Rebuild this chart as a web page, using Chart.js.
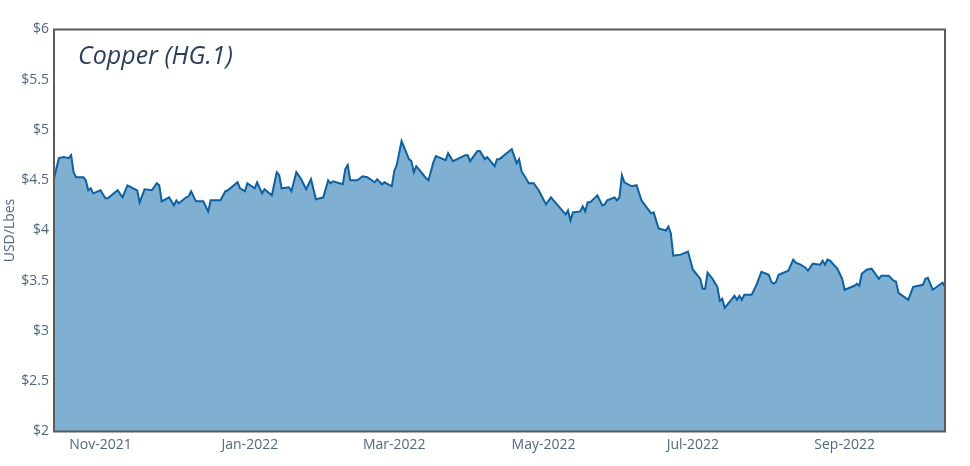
<!DOCTYPE html>
<html>
<head>
<meta charset="utf-8">
<script src="https://cdn.jsdelivr.net/npm/chart.js@4.4.0/dist/chart.umd.min.js"></script>
<style>
  html, body { margin: 0; padding: 0; background: #fff; }
  #wrap { width: 970px; height: 466px; position: relative; }
</style>
</head>
<body>
<div id="wrap"><canvas id="copperChart"></canvas></div>
<script>
// Copper futures (HG.1), USD per lb
const dates = [
    '2021-10-13', '2021-10-15', '2021-10-17', '2021-10-19', '2021-10-20', '2021-10-21', '2021-10-22',
    '2021-10-25', '2021-10-26', '2021-10-27', '2021-10-28', '2021-10-29',
    '2021-11-01', '2021-11-03', '2021-11-04', '2021-11-08', '2021-11-10', '2021-11-12', '2021-11-16',
    '2021-11-17', '2021-11-19', '2021-11-22', '2021-11-24', '2021-11-25', '2021-11-26', '2021-11-29',
    '2021-12-01', '2021-12-02', '2021-12-03', '2021-12-06', '2021-12-07', '2021-12-08', '2021-12-10',
    '2021-12-13', '2021-12-15', '2021-12-16', '2021-12-20', '2021-12-22', '2021-12-23', '2021-12-27',
    '2021-12-28', '2021-12-30', '2021-12-31',
    '2022-01-03', '2022-01-04', '2022-01-06', '2022-01-07', '2022-01-10', '2022-01-12', '2022-01-13',
    '2022-01-14', '2022-01-17', '2022-01-18', '2022-01-20', '2022-01-22', '2022-01-24', '2022-01-26',
    '2022-01-28', '2022-01-31',
    '2022-02-02', '2022-02-03', '2022-02-04', '2022-02-08', '2022-02-09', '2022-02-10', '2022-02-11',
    '2022-02-14', '2022-02-16', '2022-02-18', '2022-02-21', '2022-02-22', '2022-02-24', '2022-02-25',
    '2022-02-28',
    '2022-03-01', '2022-03-02', '2022-03-04', '2022-03-07', '2022-03-08', '2022-03-09', '2022-03-10',
    '2022-03-14', '2022-03-15', '2022-03-17', '2022-03-18', '2022-03-22', '2022-03-23', '2022-03-25',
    '2022-03-30', '2022-03-31',
    '2022-04-01', '2022-04-04', '2022-04-05', '2022-04-07', '2022-04-08', '2022-04-11', '2022-04-12',
    '2022-04-13', '2022-04-18', '2022-04-20', '2022-04-21', '2022-04-22', '2022-04-25', '2022-04-27',
    '2022-04-29',
    '2022-05-02', '2022-05-04', '2022-05-10', '2022-05-11', '2022-05-12', '2022-05-13', '2022-05-16',
    '2022-05-17', '2022-05-18', '2022-05-19', '2022-05-20', '2022-05-23', '2022-05-25', '2022-05-26',
    '2022-05-27', '2022-05-30', '2022-05-31',
    '2022-06-01', '2022-06-02', '2022-06-03', '2022-06-06', '2022-06-08', '2022-06-10', '2022-06-13',
    '2022-06-14', '2022-06-15', '2022-06-17', '2022-06-20', '2022-06-21', '2022-06-22', '2022-06-23',
    '2022-06-26', '2022-06-29',
    '2022-07-01', '2022-07-04', '2022-07-05', '2022-07-06', '2022-07-07', '2022-07-09', '2022-07-11',
    '2022-07-12', '2022-07-13', '2022-07-14', '2022-07-18', '2022-07-19', '2022-07-20', '2022-07-21',
    '2022-07-22', '2022-07-25', '2022-07-27', '2022-07-29',
    '2022-08-01', '2022-08-02', '2022-08-03', '2022-08-04', '2022-08-05', '2022-08-09', '2022-08-11',
    '2022-08-12', '2022-08-14', '2022-08-16', '2022-08-17', '2022-08-19', '2022-08-22', '2022-08-23',
    '2022-08-24', '2022-08-25', '2022-08-26', '2022-08-29', '2022-08-31',
    '2022-09-01', '2022-09-05', '2022-09-06', '2022-09-07', '2022-09-08', '2022-09-10', '2022-09-12',
    '2022-09-15', '2022-09-16', '2022-09-19', '2022-09-21', '2022-09-22', '2022-09-23', '2022-09-27',
    '2022-09-29',
    '2022-10-03', '2022-10-04', '2022-10-05', '2022-10-07', '2022-10-11', '2022-10-12'
];

const prices = [
    4.52, 4.72, 4.73, 4.72, 4.75, 4.58, 4.53,
    4.53, 4.50, 4.40, 4.42, 4.37,
    4.40, 4.32, 4.32, 4.40, 4.33, 4.45, 4.40,
    4.28, 4.41, 4.40, 4.47, 4.45, 4.29, 4.33,
    4.25, 4.30, 4.27, 4.33, 4.34, 4.39, 4.29,
    4.29, 4.19, 4.30, 4.30, 4.39, 4.40, 4.48,
    4.42, 4.39, 4.47,
    4.42, 4.48, 4.37, 4.41, 4.35, 4.58, 4.55,
    4.42, 4.43, 4.39, 4.58, 4.51, 4.41, 4.51,
    4.31, 4.33,
    4.50, 4.47, 4.49, 4.46, 4.61, 4.65, 4.50,
    4.50, 4.54, 4.53, 4.48, 4.51, 4.46, 4.48,
    4.44,
    4.59, 4.65, 4.89, 4.71, 4.69, 4.58, 4.64,
    4.52, 4.50, 4.68, 4.74, 4.70, 4.77, 4.69,
    4.75, 4.75,
    4.69, 4.79, 4.79, 4.71, 4.73, 4.64, 4.71,
    4.71, 4.81, 4.67, 4.71, 4.59, 4.47, 4.47,
    4.40,
    4.26, 4.33, 4.16, 4.20, 4.10, 4.18, 4.19,
    4.24, 4.19, 4.28, 4.28, 4.35, 4.25, 4.26,
    4.30, 4.33, 4.30,
    4.33, 4.55, 4.48, 4.44, 4.45, 4.30, 4.20,
    4.17, 4.18, 4.02, 4.00, 4.04, 3.97, 3.75,
    3.76, 3.79,
    3.61, 3.52, 3.42, 3.42, 3.58, 3.52, 3.44,
    3.30, 3.32, 3.23, 3.35, 3.31, 3.35, 3.31,
    3.36, 3.36, 3.46, 3.59,
    3.56, 3.49, 3.47, 3.49, 3.56, 3.60, 3.71,
    3.68, 3.66, 3.63, 3.60, 3.67, 3.66, 3.70,
    3.66, 3.71, 3.70, 3.62, 3.52,
    3.41, 3.45, 3.47, 3.45, 3.57, 3.61, 3.62,
    3.52, 3.55, 3.55, 3.50, 3.49, 3.38, 3.31,
    3.44,
    3.46, 3.52, 3.53, 3.41, 3.48, 3.44
];

const tickDates = ['2021-11-01', '2022-01-01', '2022-03-01', '2022-05-01', '2022-07-01', '2022-09-01'];
const tickLabels = ['Nov-2021', 'Jan-2022', 'Mar-2022', 'May-2022', 'Jul-2022', 'Sep-2022'];

const colors = {
    line: 'rgb(10, 98, 164)',
    fill: 'rgba(0, 97, 163, 0.5)',
    frame: '#5a5a5a',
    tick: '#506784',
    title: '#2a3f5f'
};

const dayNum = s => Date.parse(s + 'T00:00:00Z') / 86400000;
const tickDays = tickDates.map(dayNum);

// frame round the plot area and the title inside it
const framePlugin = {
    id: 'frame',
    afterDatasetsDraw(chart) {
        const { ctx, chartArea: a } = chart;
        ctx.save();
        ctx.strokeStyle = colors.frame;
        ctx.lineWidth = 2;
        ctx.strokeRect(a.left, a.top, a.right - a.left, a.bottom - a.top);
        ctx.fillStyle = colors.title;
        ctx.font = 'italic 25px "Open Sans"';
        ctx.textBaseline = 'middle';
        ctx.fillText('Copper (HG.1)', a.left + 24, a.top + 27);
        ctx.restore();
    }
};

document.addEventListener('DOMContentLoaded', function () {
    const copperChart = new Chart(document.getElementById('copperChart'), {
        type: 'line',
        data: {
            datasets: [{
                label: 'Copper (HG.1)',
                data: dates.map((d, i) => ({ x: dayNum(d), y: prices[i] })),
                borderColor: colors.line,
                backgroundColor: colors.fill,
                borderWidth: 2,
                pointRadius: 0,
                tension: 0,
                fill: 'start'
            }]
        },
        options: {
            responsive: true,
            maintainAspectRatio: false,
            animation: false,
            layout: { padding: { top: 29.5, right: 25, left: 0, bottom: 0 } },
            plugins: {
                legend: { display: false },
                tooltip: { enabled: false }
            },
            scales: {
                x: {
                    type: 'linear',
                    min: dayNum(dates[0]),
                    max: dayNum(dates[dates.length - 1]),
                    grid: { display: false, drawTicks: false },
                    border: { display: false },
                    afterBuildTicks: scale => { scale.ticks = tickDays.map(v => ({ value: v })); },
                    afterFit: scale => { scale.height = 34.5; },
                    ticks: {
                        autoSkip: false,
                        maxRotation: 0,
                        padding: 5,
                        color: colors.tick,
                        font: { family: 'Open Sans', size: 14 },
                        callback: value => tickLabels[tickDays.indexOf(value)]
                    }
                },
                y: {
                    min: 2,
                    max: 6,
                    grid: { display: false, drawTicks: false },
                    border: { display: false },
                    afterFit: scale => { scale.width = 54; },
                    title: {
                        display: true,
                        text: 'USD/Lbes',
                        color: colors.tick,
                        font: { family: 'Open Sans', size: 14 },
                        padding: 2
                    },
                    ticks: {
                        stepSize: 0.5,
                        padding: 5,
                        color: colors.tick,
                        font: { family: 'Open Sans', size: 14 },
                        callback: value => '$' + value
                    }
                }
            }
        },
        plugins: [framePlugin]
    });
});
</script>
</body>
</html>
